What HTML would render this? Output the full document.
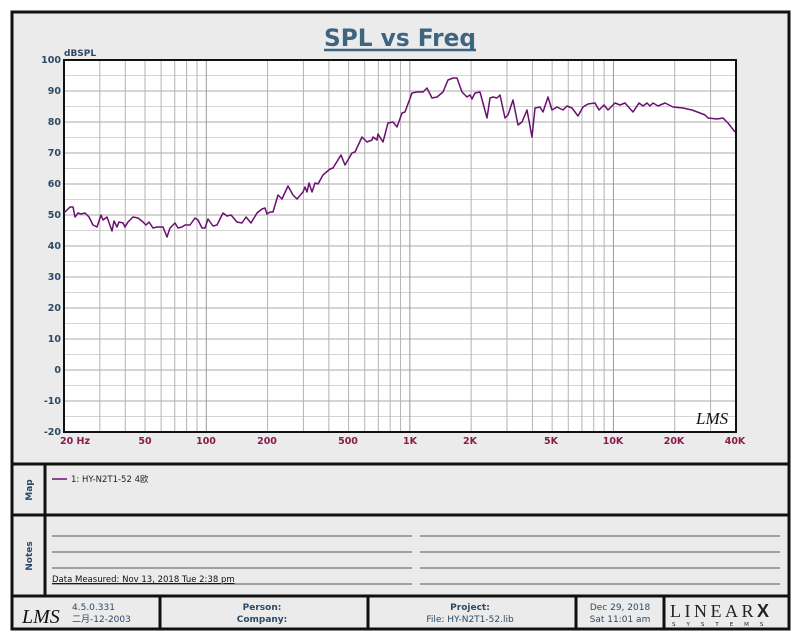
<!DOCTYPE html>
<html><head><meta charset="utf-8"><style>
html,body{margin:0;padding:0;background:#fff;}
svg{display:block;font-family:"DejaVu Sans","Liberation Sans","Noto Sans CJK SC",sans-serif;}
</style></head><body>
<svg width="800" height="640" viewBox="0 0 800 640" xmlns="http://www.w3.org/2000/svg">
<rect x="12" y="12" width="777" height="617" fill="#ebebeb" stroke="#111" stroke-width="3"/>
<text x="400" y="46" text-anchor="middle" font-size="24" font-weight="bold" fill="#3d6580" textLength="152" lengthAdjust="spacingAndGlyphs">SPL vs Freq</text>
<line x1="324" y1="50" x2="476" y2="50" stroke="#3d6580" stroke-width="2.5"/>
<rect x="64" y="60" width="672" height="372" fill="#fff"/>
<g id="grid"></g>
<rect x="64" y="60" width="672" height="372" fill="none" stroke="#111" stroke-width="2"/>
<text x="64" y="56" font-size="9" font-weight="bold" fill="#2c4a66">dBSPL</text>
<g id="ylab" font-size="9.5" font-weight="bold" fill="#2c4a66" text-anchor="end"></g>
<g font-size="9.5" font-weight="bold" fill="#8a1a4a" text-anchor="middle">
<text x="75" y="444">20  Hz</text><text x="145" y="444">50</text><text x="206" y="444">100</text><text x="267" y="444">200</text><text x="348" y="444">500</text><text x="410" y="444">1K</text><text x="470" y="444">2K</text><text x="551" y="444">5K</text><text x="613" y="444">10K</text><text x="674" y="444">20K</text><text x="735" y="444">40K</text>
</g>
<text x="696" y="424" font-size="17" font-style="italic" fill="#111" font-family="Liberation Serif,serif">LMS</text>
<polyline fill="none" stroke="#6a1070" stroke-width="1.5" stroke-linejoin="round" points="64,213 70,207 73,207 75,217 78,213 81,214 85,213 89,217 93,225 97,227 101,215 103,220 107,217 112,231 114,221 117,227 119,222 123,223 125,227 128,222 133,217 138,218 143,222 146,225 149,222 153,228 157,227 163,227 167,237 170,228 175,223 178,228 182,227 185,225 190,225 195,218 198,220 202,228 205,228 208,219 213,226 217,225 223,213 227,216 231,215 237,222 242,223 246,217 251,223 257,213 262,209 265,208 267,214 270,212 273,212 278,195 282,199 288,186 293,195 297,199 303,192 305,187 307,192 309,183 312,192 315,183 318,184 323,175 330,169 333,168 341,155 345,165 352,153 355,152 362,137 367,142 372,140 373,137 377,140 378,134 383,142 388,123 393,122 397,127 402,113 405,112 412,93 417,92 423,92 427,88 432,98 437,97 443,92 448,80 453,78 457,78 462,92 467,97 470,95 472,99 475,93 480,92 487,118 490,98 493,97 497,98 500,95 505,118 508,115 513,100 518,125 522,122 527,110 532,137 535,108 540,107 543,112 548,97 552,110 557,107 563,110 567,106 572,108 578,116 583,107 588,104 595,103 599,110 604,105 608,110 615,103 620,105 625,103 633,112 639,103 643,106 647,103 650,106 653,103 658,106 665,103 673,107 683,108 692,110 700,113 705,115 708,118 717,119 723,118 728,123 735,132"/>
<g stroke="#111" stroke-width="3" fill="none">
<line x1="12" y1="464" x2="789" y2="464"/>
<line x1="12" y1="515" x2="789" y2="515"/>
<line x1="12" y1="596" x2="789" y2="596"/>
<line x1="45" y1="464" x2="45" y2="596"/>
<line x1="160" y1="596" x2="160" y2="629"/>
<line x1="368" y1="596" x2="368" y2="629"/>
<line x1="576" y1="596" x2="576" y2="629"/>
<line x1="664" y1="596" x2="664" y2="629"/>
</g>
<g font-size="9" font-weight="bold" fill="#2c4a66" text-anchor="middle">
<text transform="translate(32,490) rotate(-90)">Map</text>
<text transform="translate(32,556) rotate(-90)">Notes</text>
</g>
<line x1="52" y1="479" x2="67" y2="479" stroke="#6a1070" stroke-width="1.5"/>
<text x="71" y="482" font-size="8.5" fill="#222">1: HY-N2T1-52 4欧</text>
<g stroke="#555" stroke-width="1">
<line x1="52" y1="536" x2="412" y2="536"/><line x1="52" y1="552" x2="412" y2="552"/><line x1="52" y1="568" x2="412" y2="568"/><line x1="52" y1="584" x2="412" y2="584"/>
<line x1="420" y1="536" x2="780" y2="536"/><line x1="420" y1="552" x2="780" y2="552"/><line x1="420" y1="568" x2="780" y2="568"/><line x1="420" y1="584" x2="780" y2="584"/>
</g>
<text x="52" y="582" font-size="8.5" fill="#111" text-decoration="underline">Data Measured: Nov 13, 2018  Tue  2:38 pm</text>
<text x="22" y="623" font-size="20" font-style="italic" fill="#111" font-family="Liberation Serif,serif">LMS</text>
<g font-size="9" fill="#2c4a66">
<text x="72" y="610">4.5.0.331</text><text x="72" y="622">二月-12-2003</text>
</g>
<g font-size="9" font-weight="bold" fill="#2c4a66" text-anchor="middle">
<text x="262" y="610">Person:</text><text x="262" y="622">Company:</text>
<text x="470" y="610">Project:</text><text x="470" y="622" font-weight="normal">File: HY-N2T1-52.lib</text>
<text x="620" y="610" font-weight="normal">Dec 29, 2018</text><text x="620" y="622" font-weight="normal">Sat 11:01 am</text>
</g>
<text x="670" y="617" font-size="18" fill="#222" font-family="Liberation Serif,serif" letter-spacing="3.5">LINEAR<tspan font-family="Liberation Sans,sans-serif" font-weight="bold">X</tspan></text>
<text x="672" y="626" font-size="5.5" fill="#222" letter-spacing="11">SYSTEMS</text>
<script>
(function(){
var ns="http://www.w3.org/2000/svg",g=document.getElementById("grid"),yl=document.getElementById("ylab");
function ln(x1,y1,x2,y2,c){var l=document.createElementNS(ns,"line");l.setAttribute("x1",x1);l.setAttribute("y1",y1);l.setAttribute("x2",x2);l.setAttribute("y2",y2);l.setAttribute("stroke",c);l.setAttribute("stroke-width","1");g.appendChild(l);}
for(var i=0;i<=24;i++){var y=60+i*15.5;ln(64,y,736,y,i%2?"#d4d4d4":"#a8a8a8");}
for(var i=0;i<=12;i++){var t=document.createElementNS(ns,"text");t.setAttribute("x",61);t.setAttribute("y",60+i*31+3);t.textContent=100-i*10;yl.appendChild(t);}
var ppd=672/Math.log10(2000);
for(var d=10;d<=10000;d*=10)for(var m=1;m<=9;m++){var f=d*m;if(f<20||f>40000)continue;var x=64+Math.log10(f/20)*ppd;ln(x,60,x,432,m==1?"#999":"#b4b4b4");}
})();
</script>
</svg>
</body></html>
